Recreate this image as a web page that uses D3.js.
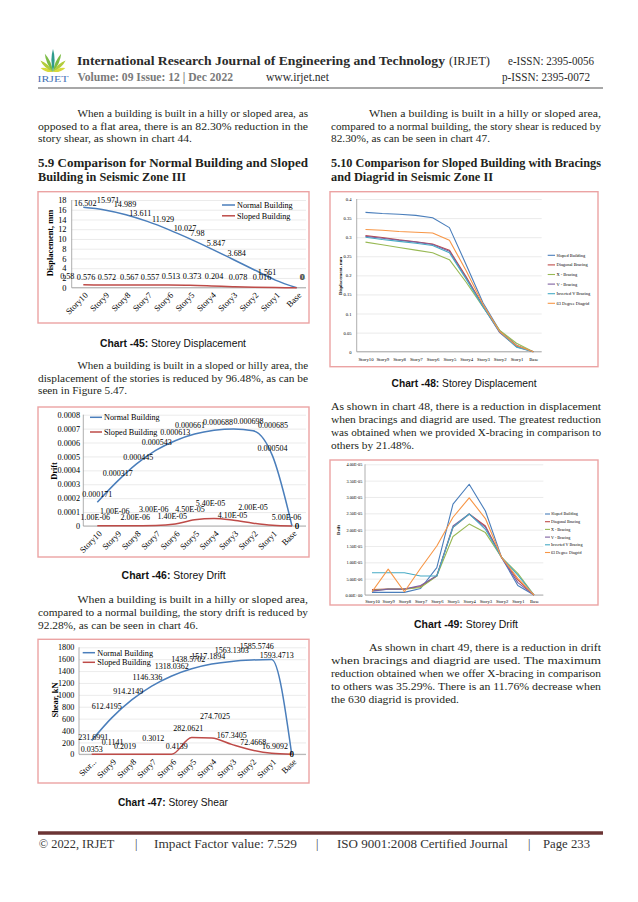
<!DOCTYPE html>
<html><head><meta charset="utf-8"><title>IRJET page 233</title>
<script src="https://cdn.jsdelivr.net/npm/d3@7"></script>
<style>html,body{margin:0;padding:0;background:#fff;}svg{display:block;}</style>
</head><body>
<svg id="page" width="638" height="902" viewBox="0 0 638 902"></svg>
<script>
// ---------------- DATA ----------------
const stories = ["Story10","Story9","Story8","Story7","Story6","Story5","Story4","Story3","Story2","Story1","Base"];
const storiesShear = ["Stor...","Story9","Story8","Story7","Story6","Story5","Story4","Story3","Story2","Story1","Base"];

// Chart 45 – storey displacement (mm)
const dispNormal = [16.502,15.971,14.989,13.611,11.929,10.027,7.98,5.847,3.684,1.561,0];
const dispSloped = [0.58,0.576,0.572,0.567,0.557,0.513,0.373,0.204,0.078,0.016,0];
const dispTicks = [0,2,4,6,8,10,12,14,16,18];
const dispTickLabels = ["0","2","4","6","8","10","12","14","16","18"];

// Chart 46 – storey drift
const driftNormal = [0.000171,0.000317,0.000445,0.000543,0.000613,0.000661,0.000688,0.000698,0.000685,0.000504,0];
const driftSloped = [0.000001,0.000001,0.000002,0.000003,0.000014,0.000045,0.000054,0.000041,0.00002,0.000005,0];
const driftTicks = [0,0.0001,0.0002,0.0003,0.0004,0.0005,0.0006,0.0007,0.0008];
const driftTickLabels = ["0","0.0001","0.0002","0.0003","0.0004","0.0005","0.0006","0.0007","0.0008"];

// Chart 47 – storey shear (kN)
const shearNormal = [231.6991,612.4195,914.2149,1146.336,1318.0362,1438.5702,1517.1894,1563.1303,1585.5746,1593.4713,0];
const shearSloped = [0.0353,0.1141,0.2019,0.3012,0.4139,282.0621,274.7025,167.3405,72.4668,16.9092,0];
const shearTicks = [0,200,400,600,800,1000,1200,1400,1600,1800];
const shearTickLabels = ["0","200","400","600","800","1000","1200","1400","1600","1800"];

// Chart 48 – displacement with bracings (mm)
const bracingNames = ["Sloped Building","Diagonal Bracing","X - Bracing","V - Bracing","Inverted V Bracing","63 Degree Diagrid"];
const dispSlopedBldg = [0.365,0.362,0.360,0.357,0.351,0.325,0.228,0.128,0.055,0.017,0];
const dispDiagonal   = [0.304,0.299,0.293,0.288,0.282,0.266,0.196,0.121,0.052,0.015,0];
const dispXBracing   = [0.287,0.280,0.273,0.266,0.259,0.241,0.182,0.117,0.056,0.022,0];
const dispVBracing   = [0.302,0.297,0.292,0.287,0.281,0.263,0.193,0.119,0.050,0.013,0];
const dispInvV       = [0.300,0.294,0.289,0.284,0.278,0.259,0.190,0.118,0.052,0.012,0];
const dispDiagrid63  = [0.320,0.318,0.315,0.313,0.311,0.292,0.212,0.124,0.053,0.016,0];
const brDispTicks = [0,0.05,0.1,0.15,0.2,0.25,0.3,0.35,0.4];
const brDispTickLabels = ["0","0.05","0.1","0.15","0.2","0.25","0.3","0.35","0.4"];

// Chart 49 – drift with bracings
const driftSlopedBldg = [8e-7,8e-7,8e-7,2.0e-6,8.4e-6,2.78e-5,3.39e-5,2.57e-5,1.15e-5,2.9e-6,0];
const driftDiagonal   = [1.7e-6,1.8e-6,1.8e-6,2.6e-6,5.9e-6,2.07e-5,2.48e-5,2.11e-5,1.15e-5,4.6e-6,0];
const driftXBracing   = [1.4e-6,1.8e-6,1.8e-6,2.3e-6,5.8e-6,1.79e-5,2.17e-5,1.91e-5,1.15e-5,6.6e-6,0];
const driftVBracing   = [1.2e-6,1.8e-6,1.8e-6,2.9e-6,5.9e-6,2.11e-5,2.48e-5,2.07e-5,1.15e-5,3.8e-6,0];
const driftInvV       = [6.8e-6,6.8e-6,6.8e-6,5.8e-6,5.8e-6,2.07e-5,2.48e-5,2.01e-5,1.15e-5,6.1e-6,0];
const driftDiagrid63  = [1.0e-6,7.9e-6,1.0e-6,8.2e-6,1.5e-5,2.38e-5,2.97e-5,2.34e-5,1.15e-5,5.1e-6,0];
const brDriftTicks = [0,5e-6,1e-5,1.5e-5,2e-5,2.5e-5,3e-5,3.5e-5,4e-5];
const brDriftTickLabels = ["0.00E+00","5.00E-06","1.00E-05","1.50E-05","2.00E-05","2.50E-05","3.00E-05","3.50E-05","4.00E-05"];

// ---------------- STYLE ----------------
const SERIF = "'Liberation Serif','Times New Roman',serif";
const SANS = "'Liberation Sans',Arial,sans-serif";
const BORDER = "#eba3a3";
const GRID = "#e3e3e3";
const AXIS = "#8c8c8c";
const TXT = "#231f20";
const palette = ["#4a7ebb","#be4b48","#98b954","#7d60a0","#46aac5","#f79646"];

const svg = d3.select("#page");
svg.append("rect").attr("width",638).attr("height",902).attr("fill","#fff");

function sci(v){
  if (v === 0) return "0";
  const parts = v.toExponential(2).split("e");
  const n = +parts[1];
  return parts[0] + "E" + (n < 0 ? "-" : "+") + String(Math.abs(n)).padStart(2,"0");
}

function line(x, yb, s, o = {}) {
  const t = svg.append("text").attr("x", x).attr("y", yb)
    .attr("font-family", o.fam || SERIF).attr("font-size", o.size || 11.2)
    .attr("font-weight", o.weight || "normal").attr("fill", o.fill || TXT)
    .attr("text-anchor", o.anchor || "start").text(s);
  if (o.len) t.attr("textLength", o.len).attr("lengthAdjust", "spacingAndGlyphs");
  return t;
}
function caption(cx, yb, bold, rest, len) {
  const t = svg.append("text").attr("x", cx - len/2).attr("y", yb)
    .attr("font-family", SANS).attr("font-size", 10.5).attr("fill", "#111")
    .attr("textLength", len).attr("lengthAdjust", "spacingAndGlyphs");
  t.append("tspan").attr("font-weight", "bold").text(bold);
  t.append("tspan").text(rest);
}

// ---------------- HEADER ----------------
(function logo(){
  const g = svg.append("g").attr("transform","translate(53,72)");
  const angles = [-72,-48,-24,0,24,48,72];
  const lens = [13,17,20,23,20,17,13];
  const cols = ["#d7da3c","#b2cc3a","#7cbc45","#2f9c8c","#7cbc45","#b2cc3a","#d7da3c"];
  angles.forEach((a,i)=>{
    const L = lens[i], w = 3.2;
    g.append("path").attr("d",`M0,0 Q${w},${-L*0.55} 0,${-L} Q${-w},${-L*0.55} 0,0 Z`)
      .attr("transform",`rotate(${a})`).attr("fill",cols[i]);
  });
  svg.append("text").attr("x",37.5).attr("y",81.5).attr("font-family",SERIF).attr("font-size",9)
    .attr("fill","#3f6fb5").attr("textLength",31).attr("lengthAdjust","spacingAndGlyphs").text("IRJET");
})();
line(77, 65, "International Research Journal of Engineering and Technology", {size:13.5, weight:"bold", len:368, fill:"#2b2b2b"});
line(449, 65, "(IRJET)", {size:13.5, len:41, fill:"#2b2b2b"});
line(508, 65, "e-ISSN: 2395-0056", {size:11.5, len:86, fill:"#2b2b2b"});
line(77.5, 80.5, "Volume: 09 Issue: 12 | Dec 2022", {size:11.5, len:155.5, fill:"#7a7a7a", weight:"bold"});
line(266, 80.5, "www.irjet.net", {size:11.5, len:63, fill:"#2b2b2b"});
line(502, 80.5, "p-ISSN: 2395-0072", {size:11.5, len:88, fill:"#2b2b2b"});
svg.append("line").attr("x1",38).attr("x2",603).attr("y1",88).attr("y2",88).attr("stroke","#a8a8a8").attr("stroke-width",2);

// ---------------- BODY TEXT ----------------
line(77.5, 117, "When a building is built in a hilly or sloped area, as", {len:230.5});
line(38, 130, "opposed to a flat area, there is an 82.30% reduction in the", {len:270});
line(38, 142, "story shear, as shown in chart 44.", {len:154});
line(38, 166.5, "5.9 Comparison for Normal Building and Sloped", {size:12.5, weight:"bold", len:270});
line(38, 180.5, "Building in Seismic Zone III", {size:12.5, weight:"bold", len:148});

caption(173, 347, "Chart -45:", " Storey Displacement", 146);
line(77.5, 369, "When a building is built in a sloped or hilly area, the", {len:230.5});
line(38, 381.5, "displacement of the stories is reduced by 96.48%, as can be", {len:270});
line(38, 394, "seen in Figure 5.47.", {len:89});

caption(173.6, 579, "Chart -46:", " Storey Drift", 104);
line(77.5, 603, "When a building is built in a hilly or sloped area,", {len:230.5});
line(38, 616, "compared to a normal building, the story drift is reduced by", {len:270});
line(38, 628.5, "92.28%, as can be seen in chart 46.", {len:160});

caption(173, 806, "Chart -47:", " Storey Shear", 110);

line(369, 117, "When a building is built in a hilly or sloped area,", {len:232});
line(331, 130, "compared to a normal building, the story shear is reduced by", {len:270});
line(331, 142, "82.30%, as can be seen in chart 47.", {len:159});
line(331, 166.5, "5.10 Comparison for Sloped Building with Bracings", {size:12.5, weight:"bold", len:270});
line(331, 180.5, "and Diagrid in Seismic Zone II", {size:12.5, weight:"bold", len:162});

caption(464, 386.5, "Chart -48:", " Storey Displacement", 145);
line(331, 410, "As shown in chart 48, there is a reduction in displacement", {len:270});
line(331, 423, "when bracings and diagrid are used. The greatest reduction", {len:270});
line(331, 436, "was obtained when we provided X-bracing in comparison to", {len:270});
line(331, 449, "others by 21.48%.", {len:83});

caption(466, 628, "Chart -49:", " Storey Drift", 104);
line(369, 651, "As shown in chart 49, there is a reduction in drift", {len:232});
line(331, 664, "when bracings and diagrid are used. The maximum", {len:270});
line(331, 677, "reduction obtained when we offer X-bracing in comparison", {len:270});
line(331, 690, "to others was 35.29%. There is an 11.76% decrease when", {len:270});
line(331, 702.5, "the 630 diagrid is provided.", {len:128});

// ---------------- FOOTER ----------------
svg.append("line").attr("x1",38).attr("x2",603).attr("y1",833).attr("y2",833).attr("stroke","#6b3434").attr("stroke-width",3.5);
line(38.8, 848, "© 2022, IRJET", {size:12, len:75.5, fill:"#333"});
line(135, 848, "|", {size:12, fill:"#333"});
line(154, 848, "Impact Factor value: 7.529", {size:12, len:143, fill:"#333"});
line(316, 848, "|", {size:12, fill:"#333"});
line(337, 848, "ISO 9001:2008 Certified Journal", {size:12, len:171, fill:"#333"});
line(528, 848, "|", {size:12, fill:"#333"});
line(543, 848, "Page 233", {size:12, len:47, fill:"#333"});

// ---------------- CHART FUNCTION ----------------
function chart(c) {
  const g = svg.append("g");
  g.append("rect").attr("x",c.box[0]).attr("y",c.box[1]).attr("width",c.box[2]).attr("height",c.box[3])
    .attr("fill","#fff").attr("stroke",BORDER).attr("stroke-width",1.4);
  const x = d3.scalePoint().domain(c.cats).range(c.xr);
  const y = d3.scaleLinear().domain([c.ticks[0], c.ticks[c.ticks.length-1]]).range(c.yr);

  // gridlines
  g.append("g").attr("transform",`translate(${c.axisX},0)`)
    .call(d3.axisLeft(y).tickValues(c.ticks).tickSize(-(c.gridR - c.axisX)).tickFormat(""))
    .call(a => { a.select(".domain").remove(); a.selectAll("line").attr("stroke",GRID).attr("stroke-width",0.7); });
  // y tick labels
  g.append("g").attr("transform",`translate(${c.axisX},0)`)
    .call(d3.axisLeft(y).tickValues(c.ticks).tickSize(0).tickPadding(c.axisX - c.labelRight)
      .tickFormat((d,i) => c.tickLabels[i]))
    .call(a => { a.select(".domain").remove();
      a.selectAll("text").attr("font-family",SERIF).attr("font-size",c.fs).attr("fill","#000"); });
  // axis lines
  g.append("line").attr("x1",c.axisX).attr("x2",c.axisX).attr("y1",y(c.ticks[c.ticks.length-1])).attr("y2",y(0))
    .attr("stroke",AXIS).attr("stroke-width",0.7);
  g.append("line").attr("x1",c.axisX).attr("x2",c.gridR).attr("y1",y(0)).attr("y2",y(0))
    .attr("stroke",AXIS).attr("stroke-width",0.7);
  // x labels
  const xa = g.append("g").attr("transform",`translate(0,${y(0)})`)
    .call(d3.axisBottom(x).tickSize(0).tickFormat((d,i) => c.xLabels[i]));
  xa.select(".domain").remove();
  xa.selectAll("text").attr("font-family",SERIF).attr("font-size",c.xfs).attr("fill","#000");
  if (c.rotate) {
    xa.selectAll("text").attr("text-anchor","end").attr("x",0).attr("y",0).attr("dy","0.35em")
      .attr("transform",`translate(2.5,${c.xLabOff}) rotate(-45)`);
  } else {
    xa.selectAll("text").attr("y",c.xLabOff).attr("dy","0.35em");
  }
  // y title
  g.append("text").attr("transform",`translate(${c.yTitle[0]},${c.yTitle[1]}) rotate(-90)`)
    .attr("text-anchor","middle").attr("dy","0.35em").attr("font-family",SERIF).attr("font-weight","bold")
    .attr("font-size",c.yTitleFs).attr("fill","#000").text(c.yTitle[2]);

  // series
  const lineGen = d3.line().x((d,i) => x(c.cats[i])).y(d => y(d)).curve(c.curve);
  c.series.forEach(s => {
    g.append("path").datum(s.values).attr("d",lineGen).attr("fill","none")
      .attr("stroke",s.color).attr("stroke-width",c.lw).attr("stroke-linejoin","round");
  });
  // data labels (offsets are label-placement styling, as in the source chart)
  c.series.forEach(s => {
    if (!s.lab) return;
    g.append("g").selectAll("text").data(s.values).join("text")
      .attr("x",(d,i) => x(c.cats[i]) + s.lab.dx[i])
      .attr("y",(d,i) => y(d) + s.lab.dy[i])
      .attr("dy","0.35em").attr("text-anchor","middle")
      .attr("font-family",SERIF).attr("font-size",c.lfs).attr("fill","#000")
      .text(d => s.lab.fmt(d));
  });
  // legend
  c.series.forEach((s,i) => {
    const ly = c.legend.y0 + i*c.legend.dy;
    g.append("line").attr("x1",c.legend.x1).attr("x2",c.legend.x2).attr("y1",ly).attr("y2",ly)
      .attr("stroke",s.color).attr("stroke-width",c.lw);
    g.append("text").attr("x",c.legend.tx).attr("y",ly).attr("dy","0.35em")
      .attr("font-family",SERIF).attr("font-size",c.legend.fs).attr("fill","#000").text(s.name);
  });
}

// Chart 45
chart({
  box:[38,191.7,271,131.3], cats:stories, xLabels:stories, xr:[83.3,296.7], yr:[287.7,200],
  ticks:dispTicks, tickLabels:dispTickLabels, axisX:71.7, gridR:306, labelRight:66.5,
  fs:8.4, lfs:8.2, xfs:8.6, rotate:true, xLabOff:6, yTitle:[50.5,243,"Displacement, mm"], yTitleFs:8.4,
  curve:d3.curveMonotoneX, lw:1.5,
  legend:{x1:222,x2:235,tx:237,y0:205,dy:10.8,fs:8.2},
  series:[
    {name:"Normal Building", values:dispNormal, color:palette[0],
      lab:{dx:[2,3.4,-1,-7,-5.6,-5,-14,-16.6,-17.3,-8.3,6], dy:[-4.5,-10,-10.7,-8.7,-10.6,-11,-15.8,-16.5,-16.8,-8.3,-10.7], fmt:d=>String(d)}},
    {name:"Sloped Building", values:dispSloped, color:palette[1],
      lab:{dx:[-16,-18.6,-19,-18,-18.6,-19,-19.3,-18.6,-16,-13.3,5], dy:[-9,-8.2,-8.2,-8.3,-8.3,-8.7,-9.4,-10.3,-10.6,-10.9,-10.9], fmt:d=>String(d)}}
  ]
});

// Chart 46
chart({
  box:[38,407,271,150], cats:stories, xLabels:stories, xr:[97.3,292], yr:[526,414.7],
  ticks:driftTicks, tickLabels:driftTickLabels, axisX:83.3, gridR:306, labelRight:80,
  fs:8.2, lfs:8, xfs:8.6, rotate:true, xLabOff:6, yTitle:[54,471,"Drift"], yTitleFs:8.4,
  curve:d3.curveMonotoneX, lw:1.5,
  legend:{x1:90,x2:102,tx:104,y0:417.3,dy:14.7,fs:8.2},
  series:[
    {name:"Normal Building", values:driftNormal, color:palette[0],
      lab:{dx:[0,1,2,1,0,-4.6,4,15,20,0,5], dy:[-8,-8.6,-7,-8,-8.5,-8.5,-8,-7.6,-5,-8,0], fmt:d=>String(d)}},
    {name:"Sloped Building", values:driftSloped, color:palette[1],
      lab:{dx:[-2,-2,-1,-2,-3,-4.6,-3.6,-1,0,14,5], dy:[-9,-15,-8.6,-16,-8.3,-10.4,-15.2,-5.3,-16,-8,0], fmt:sci}}
  ]
});

// Chart 47
chart({
  box:[38,639.3,271,143.7], cats:stories, xLabels:storiesShear, xr:[91.7,291.7], yr:[754.3,647.3],
  ticks:shearTicks, tickLabels:shearTickLabels, axisX:79, gridR:306, labelRight:74.3,
  fs:8.2, lfs:8, xfs:8.6, rotate:true, xLabOff:6, yTitle:[55,700,"Shear, kN"], yTitleFs:8.4,
  curve:d3.curveMonotoneX, lw:1.5,
  legend:{x1:82.7,x2:95,tx:97.3,y0:652.7,dy:9.6,fs:8.2},
  series:[
    {name:"Normal Building", values:shearNormal, color:palette[0],
      lab:{dx:[1.6,-5,-3.4,-4.4,0,-3.4,-3.4,0,5,5,0], dy:[-3,-12,-9,-8.5,-9.3,-9.5,-8.4,-11.4,-14,-4.6,0], fmt:d=>String(d)}},
    {name:"Sloped Building", values:shearSloped, color:palette[1],
      lab:{dx:[0,1,-6.7,1.6,5,-3.4,3.3,0,1.6,3.3,0], dy:[-5,-11.6,-8,-16,-8,-9,-22,-9,-8,-7,0], fmt:d=>String(d)}}
  ]
});

// Chart 48
const brDispValues = [dispSlopedBldg,dispDiagonal,dispXBracing,dispVBracing,dispInvV,dispDiagrid63];
chart({
  box:[330,191.7,268,175], cats:stories, xLabels:stories, xr:[365.5,533.3], yr:[351.7,199],
  ticks:brDispTicks, tickLabels:brDispTickLabels, axisX:356.7, gridR:541.7, labelRight:351.5,
  fs:4.6, xfs:4.8, rotate:false, xLabOff:7.3, yTitle:[340,276,"Displacement, mm"], yTitleFs:4.8,
  curve:d3.curveLinear, lw:1.1,
  legend:{x1:547.7,x2:555,tx:556.5,y0:255.3,dy:9.6,fs:4.4},
  series:bracingNames.map((n,i)=>({name:n, values:brDispValues[i], color:palette[i]}))
});

// Chart 49
const brDriftValues = [driftSlopedBldg,driftDiagonal,driftXBracing,driftVBracing,driftInvV,driftDiagrid63];
chart({
  box:[330,460,268,145], cats:stories, xLabels:stories, xr:[372,534], yr:[595,464.3],
  ticks:brDriftTicks, tickLabels:brDriftTickLabels, axisX:365, gridR:543.3, labelRight:362.3,
  fs:4.3, xfs:4.6, rotate:false, xLabOff:6, yTitle:[338,530,"Drift"], yTitleFs:4.8,
  curve:d3.curveLinear, lw:1.1,
  legend:{x1:545,x2:550,tx:551,y0:514,dy:7.7,fs:4.1},
  series:bracingNames.map((n,i)=>({name:n, values:brDriftValues[i], color:palette[i]}))
});
</script>
</body></html>
